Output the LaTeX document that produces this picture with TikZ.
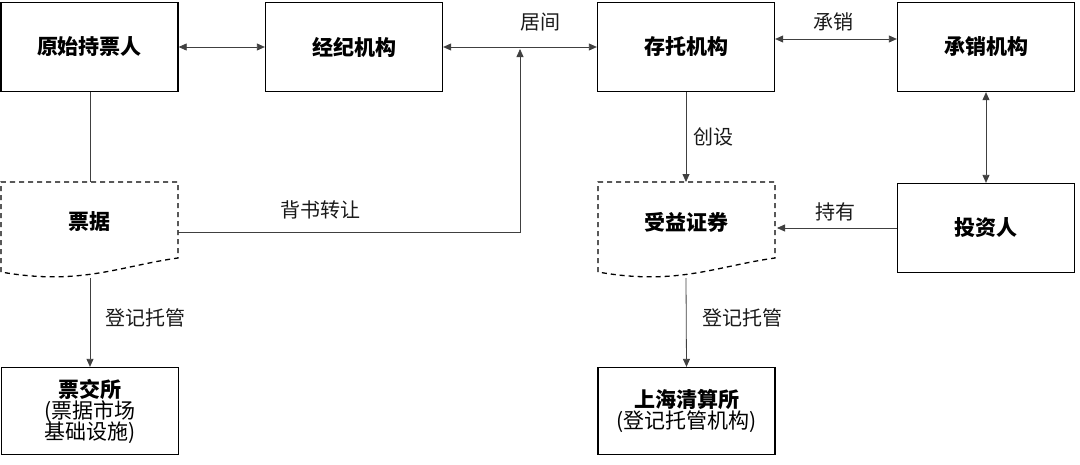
\documentclass[tikz,border=0pt]{standalone}
\usepackage{fontspec}
\setmainfont{Noto Sans CJK SC}
\usetikzlibrary{arrows.meta}
\begin{document}
\begin{tikzpicture}[x=1pt,y=-1pt,
 box/.style={draw,line width=1.3pt,minimum width=177pt,minimum height=89pt,font=\fontsize{21}{24}\selectfont\bfseries,align=center,inner sep=0pt},
 ln/.style={draw=black!75,line width=0.8pt},
 ar/.style={ln,-{Triangle[length=8pt,width=7pt]}},
 lab/.style={font=\fontsize{20}{23}\selectfont,text=black!90}]
\useasboundingbox (0,0) rectangle (1080,464);
\node[box] (a) at (89.5,47) {原始持票人};
\node[box] (b) at (354,47) {经纪机构};
\node[box] (c) at (686,47) {存托机构};
\node[box] (d) at (986,47) {承销机构};
\node[box] (e) at (986,228) {投资人};
\node[box,minimum height=87pt] (f) at (90,411) {票交所\\[-3pt]{\normalfont (票据市场}\\[-3pt]{\normalfont 基础设施)}};
\node[box,minimum height=87pt] (g) at (686.5,411) {上海清算所\\[-3pt]{\normalfont (登记托管机构)}};
% documents
\draw[line width=1.3pt,dash pattern=on 5pt off 4pt] (1,272) -- (1,182) -- (178,182) -- (178,258) .. controls (120,266) and (80,286) .. (1,272);
\draw[line width=1.3pt,dash pattern=on 5pt off 4pt] (598,272) -- (598,182) -- (775,182) -- (775,258) .. controls (717,266) and (677,286) .. (598,272);
\node[font=\fontsize{21}{24}\selectfont\bfseries] (p) at (89.5,222) {票据};
\node[font=\fontsize{21}{24}\selectfont\bfseries] (q) at (686,222) {受益证券};
\coordinate (pt) at (90,182); \coordinate (pb) at (90,278);
\coordinate (qt) at (686,182); \coordinate (qb) at (686,278);
\coordinate (pr) at (178,232); \coordinate (qr) at (777,228);
\coordinate (m) at (520,232); \coordinate (mt) at (520,49);
% connectors
\draw[ln,{Triangle[length=8pt,width=7pt]}-{Triangle[length=8pt,width=7pt]}] (a.east) -- (b.west);
\draw[ln,{Triangle[length=8pt,width=7pt]}-{Triangle[length=8pt,width=7pt]}] (b.east) -- (c.west);
\draw[ln,{Triangle[length=8pt,width=7pt]}-{Triangle[length=8pt,width=7pt]}] ([yshift=8pt]c.east) -- ([yshift=8pt]d.west);
\draw[ln,{Triangle[length=8pt,width=7pt]}-{Triangle[length=8pt,width=7pt]}] (d.south) -- (e.north);
\draw[ln] (a.south -| pt) -- (pt);
\draw[ar] (pb) -- (f.north);
\draw[ar] (c.south) -- (qt);
\draw[ar] (qb) -- (g.north);
\draw[ar] (pr) -- (m) -- (mt);
\draw[ar] (e.west |- qr) -- (qr);
% labels
\node[lab] at (540,22) {居间};
\node[lab] at (833,22) {承销};
\node[lab] at (320,210) {背书转让};
\node[lab] at (713,137) {创设};
\node[lab] at (835,212) {持有};
\node[lab] at (145,318) {登记托管};
\node[lab] at (742,318) {登记托管};
\end{tikzpicture}
\end{document}
